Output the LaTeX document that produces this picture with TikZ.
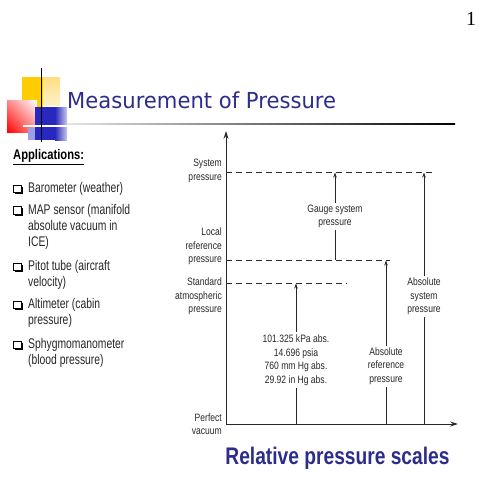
\documentclass[tikz,border=0pt]{standalone}
\usepackage{fontspec}
\setmainfont{Liberation Sans}
\newfontfamily\condf{Liberation Sans}[FakeStretch=0.8]
\newfontfamily\listf{Liberation Sans}[FakeStretch=0.74]
\newfontfamily\boldcondf{Liberation Sans Bold}[FakeStretch=0.8]
\newfontfamily\apfont{Liberation Sans Bold}[FakeStretch=0.8]
\newfontfamily\titlefont{DejaVu Sans}[FakeStretch=0.96]
\newfontfamily\serifnum{Liberation Serif}
\usetikzlibrary{arrows.meta,shadows,shadings}
\definecolor{navy}{RGB}{44,44,140}
\definecolor{ink}{RGB}{40,40,40}
\definecolor{logoyellow}{RGB}{255,204,0}
\definecolor{logoblue}{RGB}{40,40,190}
\tikzset{
  x=1pt, y=-1pt,
  lbl/.style={font=\condf\fontsize{10.7}{13.5}\selectfont, text=ink, align=center, inner sep=1pt},
  leftlbl/.style={lbl, align=right, anchor=east},
  dashln/.style={draw=ink, line width=0.8pt, dash pattern=on 6pt off 4pt},
  axisln/.style={draw=ink, line width=0.9pt, -{Stealth[length=8pt,width=5pt,inset=3pt]}},
  arr/.style={draw=ink, line width=0.9pt, -{Stealth[length=5pt,width=3.5pt]}},
  item/.style={font=\listf\fontsize{14}{16}\selectfont, text=black!85, align=left, anchor=west, inner sep=0pt},
  chk/.style={draw=black, fill=white, minimum size=7.5pt, inner sep=0pt, line width=0.6pt,
    drop shadow={shadow xshift=1.3pt, shadow yshift=-1.3pt, opacity=1, fill=black}},
}
\begin{document}
\begin{tikzpicture}
\useasboundingbox (0,0) rectangle (480,480);
% page number
\node[font=\serifnum\fontsize{20}{20}\selectfont, anchor=base, inner sep=0] (pnum) at (471,25) {1};
% logo
\shade[top color={rgb,255:red,255;green,222;blue,130}, bottom color={rgb,255:red,255;green,240;blue,200}] (43,77) rectangle (60,105);
\fill[logoyellow] (22,77) rectangle (43,107);
\shade[upper left=red!45, upper right=white, lower left=red, lower right=red!45] (7,100) rectangle (37,132);
\fill[logoblue] (35,107) rectangle (55,140);
\shade[left color=logoblue, right color=logoblue!25] (55,107) rectangle (67,140);
\fill[logoblue!45] (28,128) rectangle (35,140);
\fill[white] (23,124.5) rectangle (67,126.5);
\draw[black, line width=1pt] (41,68) -- (41,142);
% title
\node[font=\titlefont\fontsize{22}{22}\selectfont, text=navy, anchor=base west, inner sep=0] (title) at (67,108) {Measurement of Pressure};
\shade[left color=black!10, right color=black] (67,123.3) rectangle (455,124.9);
% applications list
\node[font=\apfont\fontsize{14}{16}\selectfont, anchor=west, inner sep=0] (apps) at (13,157) {\underline{Applications:}};
\node[chk] (c1) at (17.5,189) {};
\node[item] (i1) at (28,189) {Barometer (weather)};
\node[chk] (c2) at (17.5,210.5) {};
\node[item] (i2) at (28,226.5) {MAP sensor (manifold\\absolute vacuum in\\ICE)};
\node[chk] (c3) at (17.5,267) {};
\node[item] (i3) at (28,275) {Pitot tube (aircraft\\velocity)};
\node[chk] (c4) at (17.5,305) {};
\node[item] (i4) at (28,313) {Altimeter (cabin\\pressure)};
\node[chk] (c5) at (17.5,345) {};
\node[item] (i5) at (28,353) {Sphygmomanometer\\(blood pressure)};
% axes
\coordinate (O) at (226,424);
\coordinate (ytop) at (226,131);
\coordinate (xend) at (458,424);
\draw[axisln] (O) -- (ytop);
\draw[axisln] (O) -- (xend);
% levels
\coordinate (sys0) at (226,172); \coordinate (sys1) at (435,172);
\coordinate (loc0) at (226,260); \coordinate (loc1) at (390,260);
\coordinate (std0) at (226,283); \coordinate (std1) at (347,283);
\draw[dashln] (sys0) -- (sys1);
\draw[dashln] (loc0) -- (loc1);
\draw[dashln] (std0) -- (std1);
% left labels
\node[leftlbl] (lsys) at (223,171) {System\\pressure};
\node[leftlbl] (lloc) at (223,246.5) {Local\\reference\\pressure};
\node[leftlbl] (lstd) at (223,296.5) {Standard\\atmospheric\\pressure};
\node[leftlbl] (lvac) at (223,424) {Perfect\\vacuum};
% vertical arrows
\coordinate (g0) at (335,260); \coordinate (g1) at (335,172.5);
\draw[arr] (g0) -- node[lbl, fill=white, pos=0.5, inner ysep=2pt] (lg) {Gauge system\\pressure} (g1);
\coordinate (s0) at (296,424); \coordinate (s1) at (296,283.5);
\draw[arr] (s0) -- node[lbl, fill=white, pos=0.455, inner ysep=3pt] (ls) {101.325 kPa abs.\\14.696 psia\\760 mm Hg abs.\\29.92 in Hg abs.} (s1);
\coordinate (r0) at (386,424); \coordinate (r1) at (386,260.5);
\draw[arr] (r0) -- node[lbl, fill=white, pos=0.354, inner ysep=2pt] (lr) {Absolute\\reference\\pressure} (r1);
\coordinate (a0) at (424,424); \coordinate (a1) at (424,172.5);
\draw[arr] (a0) -- node[lbl, fill=white, pos=0.508, inner ysep=2pt] (la) {Absolute\\system\\pressure} (a1);
% caption
\node[font=\boldcondf\fontsize{24}{24}\selectfont, text=navy, anchor=base, inner sep=0] (cap) at (337.5,464) {Relative pressure scales};
\end{tikzpicture}
\end{document}
